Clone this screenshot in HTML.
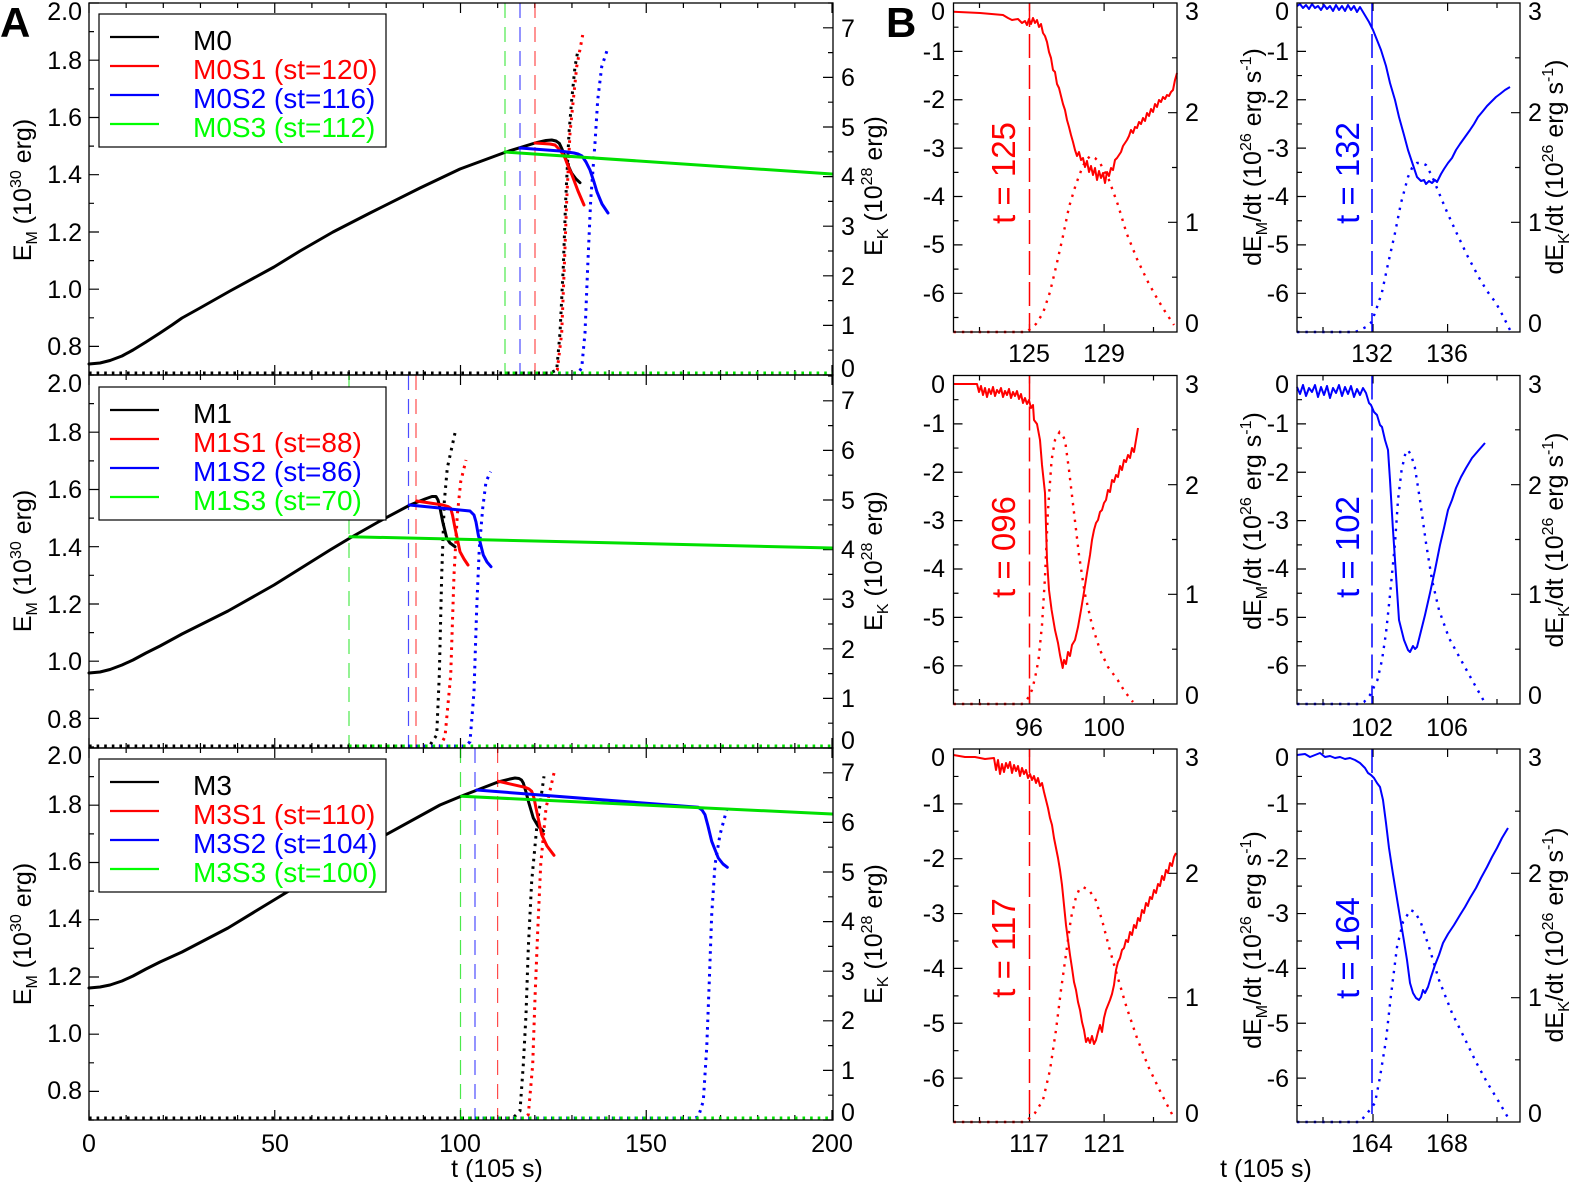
<!DOCTYPE html>
<html><head><meta charset="utf-8"><style>
html,body{margin:0;padding:0;background:#fff;}
svg{display:block;font-family:"Liberation Sans",Arial,sans-serif;}
</style></head><body>
<svg width="1570" height="1184" viewBox="0 0 1570 1184" xmlns="http://www.w3.org/2000/svg">
<defs>
<path id="xt" d="M89,0v10M126.15,0v5M163.3,0v5M200.45,0v5M237.6,0v5M274.75,0v10M311.9,0v5M349.05,0v5M386.2,0v5M423.35,0v5M460.5,0v10M497.65,0v5M534.8,0v5M571.95,0v5M609.1,0v5M646.25,0v10M683.4,0v5M720.55,0v5M757.7,0v5M794.85,0v5M832,0v10"/>
<path id="yl" d="M0,0h10M0,28.6h5M0,57.2h10M0,85.9h5M0,114.5h10M0,143.1h5M0,171.7h10M0,200.3h5M0,229h10M0,257.6h5M0,286.2h10M0,314.8h5M0,343.4h10M0,372h5"/>
<path id="yr" d="M0,0h-10M0,-24.8h-5M0,-49.6h-10M0,-74.4h-5M0,-99.2h-10M0,-124h-5M0,-148.8h-10M0,-173.6h-5M0,-198.4h-10M0,-223.2h-5M0,-248h-10M0,-272.8h-5M0,-297.6h-10M0,-322.4h-5M0,-347.2h-10M0,-372h-5"/>
<path id="bxt" d="M26,0v5M76,0v8M150.6,0v8M200,0v5"/>
<path id="bl1" d="M0,24.19h5M0,48.38h9M0,72.57h5M0,96.76h9M0,120.96h5M0,145.15h9M0,169.34h5M0,193.53h9M0,217.72h5M0,241.91h9M0,266.1h5M0,290.29h9M0,314.49h5"/>
<path id="bl3" d="M0,27.43h5M0,54.85h9M0,82.28h5M0,109.71h9M0,137.13h5M0,164.56h9M0,191.99h5M0,219.41h9M0,246.84h5M0,274.26h9M0,301.69h5M0,329.12h9M0,356.54h5"/>
<path id="br1" d="M0,-54.83h-5M0,-109.67h-9M0,-164.5h-5M0,-219.33h-9M0,-274.17h-5"/>
<path id="br3" d="M0,-62.17h-5M0,-124.33h-9M0,-186.5h-5M0,-248.67h-9M0,-310.83h-5"/>
</defs>
<rect width="1570" height="1184" fill="#fff"/>

<!-- A ticks -->
<g stroke="#000" stroke-width="1.2" fill="none">
<use href="#xt" transform="translate(0,3)"/>
<use href="#xt" transform="translate(0,375) scale(1,-1)"/>
<use href="#xt" transform="translate(0,375)"/>
<use href="#xt" transform="translate(0,748) scale(1,-1)"/>
<use href="#xt" transform="translate(0,748)"/>
<use href="#xt" transform="translate(0,1120) scale(1,-1)"/>
<use href="#yl" transform="translate(89,3)"/>
<use href="#yl" transform="translate(89,375)"/>
<use href="#yl" transform="translate(89,748)"/>
<use href="#yr" transform="translate(833,375)"/>
<use href="#yr" transform="translate(833,748)"/>
<use href="#yr" transform="translate(833,1120)"/>
<!-- B ticks -->
<use href="#bxt" transform="translate(953.5,3)"/><use href="#bxt" transform="translate(953.5,332) scale(1,-1)"/>
<use href="#bxt" transform="translate(953.5,375.5)"/><use href="#bxt" transform="translate(953.5,704) scale(1,-1)"/>
<use href="#bxt" transform="translate(953.5,749)"/><use href="#bxt" transform="translate(953.5,1122) scale(1,-1)"/>
<use href="#bxt" transform="translate(1297,3)"/><use href="#bxt" transform="translate(1297,332) scale(1,-1)"/>
<use href="#bxt" transform="translate(1297,375.5)"/><use href="#bxt" transform="translate(1297,704) scale(1,-1)"/>
<use href="#bxt" transform="translate(1297,749)"/><use href="#bxt" transform="translate(1297,1122) scale(1,-1)"/>
<use href="#bl1" transform="translate(953.5,3)"/><use href="#bl1" transform="translate(953.5,375.5)"/><use href="#bl3" transform="translate(953.5,749)"/>
<use href="#bl1" transform="translate(1297,3)"/><use href="#bl1" transform="translate(1297,375.5)"/><use href="#bl3" transform="translate(1297,749)"/>
<use href="#br1" transform="translate(1177,332)"/><use href="#br1" transform="translate(1177,704)"/><use href="#br3" transform="translate(1177,1122)"/>
<use href="#br1" transform="translate(1520,332)"/><use href="#br1" transform="translate(1520,704)"/><use href="#br3" transform="translate(1520,1122)"/>
</g>

<!-- A vertical dashed lines -->
<g stroke-width="1.2" stroke-dasharray="15 9" stroke-opacity="0.7">
<line x1="505" x2="505" y1="3" y2="375" stroke="#00e000"/><line x1="520" x2="520" y1="3" y2="375" stroke="#00f"/><line x1="535" x2="535" y1="3" y2="375" stroke="#f00"/>
<line x1="349" x2="349" y1="375" y2="748" stroke="#00e000"/><line x1="408.5" x2="408.5" y1="375" y2="748" stroke="#00f"/><line x1="416" x2="416" y1="375" y2="748" stroke="#f00"/>
<line x1="460.5" x2="460.5" y1="748" y2="1120" stroke="#00e000"/><line x1="475" x2="475" y1="748" y2="1120" stroke="#00f"/><line x1="497.6" x2="497.6" y1="748" y2="1120" stroke="#f00"/>
</g>

<!-- A dotted curves -->
<g fill="none" stroke-width="3" stroke-dasharray="2.6 5" stroke-linejoin="round">
<polyline stroke="#000" points="89,373 550,373 556.7,370 560,333 563.3,266.7 565.7,200 569,133 571.7,100 575,66.7 578,50"/>
<polyline stroke="#f00" points="535,373 553,373 557.3,370 561.7,333 564.3,266.7 566.7,200 570,133 573.3,100 576.7,66.7 582.7,35"/>
<polyline stroke="#00f" points="520,373 578,373 581.7,368 585,333 587.7,266.7 590.7,200 595,143 597.7,100 601.7,66.7 608.3,46.7"/>
<polyline stroke="#00e000" points="505,373 832,373"/>
<polyline stroke="#000" points="89,746 425,746 430,745 436.7,735 439.3,675 441.7,575 444.3,501.7 447.3,468 455,433"/>
<polyline stroke="#f00" points="416,746 440,746 445,736.7 450.7,675 454,575 457.3,515 460.7,481.7 466,460"/>
<polyline stroke="#00f" points="408.5,746 466,746 470,741.7 474,691.7 476.7,608.3 479.3,548.3 482.7,508.3 486,481.7 490.7,471.7"/>
<polyline stroke="#00e000" points="349,746 832,746"/>
<polyline stroke="#000" points="89,1118 513,1118 520,1111 523.3,1064.7 526,1014.7 528.3,948 531.7,881 536.7,828 544,776.3"/>
<polyline stroke="#f00" points="497.6,1118 524,1118 528.3,1114.7 532.7,1064.7 535,998 537.7,931.3 540.7,864.7 546,808 554,773"/>
<polyline stroke="#00f" points="475,1118 694,1118 698.3,1117 703.3,1101 706.7,1048 709.3,981 711.7,914.7 715,864.7 720,834.7 726.7,809.7"/>
<polyline stroke="#00e000" points="460.5,1118 832,1118"/>
</g>

<!-- A solid curves -->
<g fill="none" stroke-width="3" stroke-linejoin="round" stroke-linecap="round">
<polyline stroke="#000" points="89,364 100,363 110,360.5 122,356 133,350 146,342 160,333 172,325 182,318 200,308 230,291 274,267 300,251 333,232 370,213 420,188 460,169 506,152 535,143 546,140.5 551.7,140 556,141 559.3,143.3 562,149 565,156.7 568,165 571.7,173.3 576,179 580,182.7"/>
<polyline stroke="#f00" points="535,143 550,144 555,145 558,148 562,153 565,158 568,166 572,175 578,191 584,205"/>
<polyline stroke="#00f" points="520,148 560,151 574,153 578,154 582,156 586,162 590,170 594,182 597,192 602,204 608,213"/>
<polyline stroke="#00e000" points="505,152 832,174"/>
<polyline stroke="#000" points="89,673 100,672 110,669.5 122,665 133,660 146,653 160,646 182,634 228,611 274,585 330,550 350,538 380,521 410,505 425,499 432,496.5 436,496.5 438,500 440,508 442.7,521.7 446.7,538 450,543 455,546.7"/>
<polyline stroke="#f00" points="416.7,501 443,505 448,506.5 450.7,508.3 452.5,515 455,528 460,551.7 464,559 468,565"/>
<polyline stroke="#00f" points="409.3,505 470,511 474,515 476,522 478.3,535 483.3,555 487,562 491,566.7"/>
<polyline stroke="#00e000" points="350,536.7 832,548"/>
<polyline stroke="#000" points="89,988 100,987 110,985 122,981 133,976 146,969 160,962 182,952 228,928 274,900 330,866 380,838 440,805 461.7,796 498,782 510,779 515,778 519,778.5 521.5,780 523.3,783 526,792 528.3,801 533.3,818 538,826 543.3,831"/>
<polyline stroke="#f00" points="498.3,781.3 525,787.3 529,789 531.7,791.3 534,798 536,808 541.7,834.7 547,846 554,855.3"/>
<polyline stroke="#00f" points="476.7,790 698.3,807.3 702,810 705,814.7 708,826 711.7,841.3 718.3,858 723,864 727.3,867.3"/>
<polyline stroke="#00e000" points="461.7,796.3 832,814"/>
</g>

<!-- B vertical dashed -->
<g stroke-width="1.5" stroke-dasharray="24 7">
<line x1="1029.5" x2="1029.5" y1="3" y2="332" stroke="#f00"/><line x1="1029.5" x2="1029.5" y1="375.5" y2="704" stroke="#f00"/><line x1="1029.5" x2="1029.5" y1="749" y2="1122" stroke="#f00"/>
<line x1="1372" x2="1372" y1="3" y2="332" stroke="#00f"/><line x1="1372" x2="1372" y1="375.5" y2="704" stroke="#00f"/><line x1="1372" x2="1372" y1="749" y2="1122" stroke="#00f"/>
</g>
<!-- B dotted -->
<g fill="none" stroke-width="2.4" stroke-dasharray="2.4 6">
<polyline stroke="#f00" points="953.5,332 1027,332 1029,330 1036,324 1043,313 1050,292 1056,267 1063,236 1069,207 1076,184 1082.5,167 1086,160 1090.4,156 1095,158 1100,163 1109,180 1118,205 1126.5,233 1137,259 1148.5,283 1158,300 1166,313 1174,325"/>
<polyline stroke="#00f" points="1297,332 1355,332 1360,330 1366,327 1371.6,322 1376,310 1381.8,293 1388,264 1395,233 1401,203 1408,177 1412,168 1417,163 1422,163 1426,165 1432,176 1439,193 1447,212 1456.6,233 1467,255 1478.6,277 1487,291 1496,303 1503,316 1510,330"/>
<polyline stroke="#f00" points="953.5,704 1022,704 1025,702 1028,698 1032,690 1035,678 1038.5,660 1042,625 1045,577 1048,510 1051.6,460 1055,440 1059.6,432 1062,434 1065,440 1069,470 1073.7,510 1079,555 1084.7,593 1092,625 1100,650 1108,667 1117.7,680 1125,692 1133,702"/>
<polyline stroke="#00f" points="1297,704 1360,704 1364,702 1370,695 1377.4,680 1382,660 1386,633 1390,595 1395,543 1398,500 1401.6,470 1405,455 1408,450 1411,455 1414.8,467 1420,500 1426,543 1432,580 1439,610 1449,638 1461,660 1472,680 1485,703"/>
<polyline stroke="#f00" points="953.5,1122 1024,1122 1027.4,1120 1035,1113 1043,1100 1050,1070 1056,1030 1061,990 1067,947 1071,918 1076,897 1079,890 1083,887 1089,890 1095.7,900 1102,920 1109,947 1117,975 1126.5,1007 1137,1038 1148.5,1067 1161,1093 1174,1118"/>
<polyline stroke="#00f" points="1297,1122 1360,1122 1364,1117 1369,1111 1375,1103 1380,1077 1386,1040 1391,995 1397,947 1403,922 1410.4,910 1415,912 1421,923 1429,947 1439,980 1452,1013 1465.4,1040 1476,1062 1487.4,1083 1499,1102 1509.4,1120"/>
</g>
<!-- B solid noisy -->
<g fill="none" stroke-width="2" stroke-linejoin="round">
<polyline stroke="#f00" points="953.5,11.7 980,13 1003,15 1008,18 1012,20 1018,19 1022,23 1025,21 1027,25 1029,19 1031,24 1033,18 1035,23 1037,20 1039,27 1041,24 1043,33 1045,36 1047,42 1049,52 1051,58 1053,70 1055,72 1057,84 1059,88 1061,96 1063,104 1065,110 1067,120 1069,127 1071,135 1073,142 1075,150 1077,156 1079,152 1081,160 1083,158 1085,167 1087,161 1089,172 1091,166 1093,175 1095,168 1097,180 1099,171 1101,178 1103,173 1105,183 1107,172 1109,176 1111,168 1113,170 1115,160 1117,158 1119,155 1121,152 1123,146 1125,143 1127,140 1129,136 1131,130 1133,133 1135,127 1137,128 1139,122 1141,124 1143,118 1145,121 1147,113 1149,116 1151,109 1153,112 1155,104 1157,107 1159,100 1161,102 1163,97 1165,99 1167,95 1169,96 1171,92 1173,90 1175,80 1177,73"/>
<polyline stroke="#00f" points="1297,6 1300,4 1303,8 1306,5 1309,9 1312,4 1315,8 1318,6 1321,10 1324,5 1327,9 1330,6 1333,11 1336,5 1339,10 1342,6 1345,11 1348,5 1351,10 1354,6 1357,12 1360,7 1363,12 1366,17 1369,22 1373,30 1377,40 1381,50 1386,66 1390,83 1395,100 1399,117 1404,135 1408,150 1413,165 1417,177 1421,181 1424,180 1426,184 1429,181 1432,183 1435,180 1437,182 1441,174 1444,169 1448,163 1452,158 1456,150 1460,144 1465,137 1470,130 1474,124 1478,117 1483,111 1487,106 1492,101 1496,97 1500,94 1505,90 1510,87"/>
<polyline stroke="#f00" points="953.5,384 977,384 979,392 981,386 983,395 985,388 987,397 989,389 991,394 993,387 995,396 997,390 999,393 1001,388 1003,397 1005,391 1007,395 1009,389 1011,398 1013,392 1015,396 1017,391 1019,399 1021,394 1023,403 1025,398 1027,404 1029,400 1031,408 1033,405 1034,420 1037,424 1040,440 1042,465 1045,493 1047,560 1049,590 1051.6,610 1055,630 1058,643 1060,655 1062.7,668 1064,660 1066,664 1068,652 1070,656 1072,645 1075,640 1078,627 1081,610 1084,592 1087,573 1090,555 1092,540 1094,530 1096,523 1098,520 1100,512 1102,510 1104,503 1106,500 1108,490 1110,492 1112,480 1114,482 1116,475 1118,477 1120,466 1122,470 1124,460 1126,462 1128,455 1130,458 1132,448 1134,452 1136,440 1138,428"/>
<polyline stroke="#00f" points="1297,387 1300,394 1303,385 1306,396 1309,388 1312,392 1315,385 1318,397 1321,387 1324,395 1327,386 1330,398 1333,388 1336,393 1339,385 1342,396 1345,387 1348,394 1351,386 1354,397 1357,389 1360,395 1363,388 1366,393 1369,403 1371,405 1374,412 1377,415 1380,425 1382,427 1385,440 1388,450 1390,480 1392.8,527 1396,575 1399,620 1404,640 1408,650 1410,652 1413,646 1415,649 1417,647 1420,635 1425,615 1430,593 1435,570 1440,545 1444,528 1448,510 1452,500 1456,488 1461,477 1466,468 1472,458 1478,451 1485,443"/>
<polyline stroke="#f00" points="953.5,755 965,757 975,757 985,759 994,758 996,770 998,760 1000,774 1002,764 1004,772 1006,763 1008,768 1010,762 1012,773 1014,765 1016,771 1018,766 1020,776 1022,768 1024,774 1026,770 1028,778 1030,774 1032,780 1034,776 1036,783 1038,778 1040,786 1042,783 1044,792 1046,800 1048,808 1050,818 1052,825 1054,838 1056,848 1058,858 1060,870 1062,885 1064,905 1066,925 1068,940 1070,955 1072,968 1074,982 1076,990 1078,1002 1080,1010 1082,1022 1084,1030 1086,1042 1088,1038 1090,1043 1092,1036 1094,1044 1096,1040 1098,1032 1100,1025 1102,1032 1104,1018 1106,1010 1108,1005 1110,1000 1112,994 1114,985 1116,970 1118,962 1120,958 1122,950 1124,948 1126,940 1128,942 1130,932 1132,935 1134,925 1136,928 1138,918 1140,921 1142,910 1144,913 1146,903 1148,906 1150,897 1152,899 1154,890 1156,893 1158,884 1160,886 1162,876 1164,880 1166,870 1168,873 1170,863 1172,866 1174,857 1176,853"/>
<polyline stroke="#00f" points="1297,755 1305,754 1310,757 1315,755 1320,753 1325,757 1330,756 1335,758 1340,757 1345,759 1350,758 1355,760 1360,763 1365,768 1368,773 1371,775 1374,778 1377,783 1380,787 1383,800 1386,823 1389,848 1392.8,873 1398,905 1403.8,940 1407,960 1410,983 1413,993 1416,998 1419,1000 1421,997 1423,990 1425,993 1428,987 1431,977 1435,965 1439,955 1443,943 1448,934 1454,925 1460,915 1465,907 1470,898 1476,888 1481,878 1487,867 1492,857 1497,848 1502,838 1508,828"/>
</g>

<g fill="none" stroke="#000" stroke-width="1.3">
<rect x="89" y="3" width="744" height="372"/>
<rect x="89" y="375" width="744" height="373"/>
<rect x="89" y="748" width="744" height="372"/>
<rect x="953.5" y="3" width="223.5" height="329"/>
<rect x="953.5" y="375.5" width="223.5" height="328.5"/>
<rect x="953.5" y="749" width="223.5" height="373"/>
<rect x="1297" y="3" width="223" height="329"/>
<rect x="1297" y="375.5" width="223" height="328.5"/>
<rect x="1297" y="749" width="223" height="373"/>
</g>
<!-- legends -->
<g fill="#fff" stroke="#000" stroke-width="1.2">
<rect x="99" y="14" width="287" height="133"/>
<rect x="99" y="387" width="287" height="133"/>
<rect x="99" y="759" width="287" height="133"/>
</g>
<g stroke-width="2.2">
<line x1="110" x2="159" y1="37" y2="37" stroke="#000"/><line x1="110" x2="159" y1="66" y2="66" stroke="#f00"/><line x1="110" x2="159" y1="95" y2="95" stroke="#00f"/><line x1="110" x2="159" y1="124" y2="124" stroke="#0f0"/>
<line x1="110" x2="159" y1="410" y2="410" stroke="#000"/><line x1="110" x2="159" y1="439" y2="439" stroke="#f00"/><line x1="110" x2="159" y1="468" y2="468" stroke="#00f"/><line x1="110" x2="159" y1="497" y2="497" stroke="#0f0"/>
<line x1="110" x2="159" y1="782" y2="782" stroke="#000"/><line x1="110" x2="159" y1="811" y2="811" stroke="#f00"/><line x1="110" x2="159" y1="840" y2="840" stroke="#00f"/><line x1="110" x2="159" y1="869" y2="869" stroke="#0f0"/>
</g>
<g font-size="28">
<text x="193" y="50">M0</text><text x="193" y="79" fill="#f00">M0S1 (st=120)</text><text x="193" y="108" fill="#00f">M0S2 (st=116)</text><text x="193" y="137" fill="#0f0">M0S3 (st=112)</text>
<text x="193" y="423">M1</text><text x="193" y="452" fill="#f00">M1S1 (st=88)</text><text x="193" y="481" fill="#00f">M1S2 (st=86)</text><text x="193" y="510" fill="#0f0">M1S3 (st=70)</text>
<text x="193" y="795">M3</text><text x="193" y="824" fill="#f00">M3S1 (st=110)</text><text x="193" y="853" fill="#00f">M3S2 (st=104)</text><text x="193" y="882" fill="#0f0">M3S3 (st=100)</text>
</g>
<text x="0" y="37" font-size="42" font-weight="bold">A</text>
<text x="886" y="37" font-size="42" font-weight="bold">B</text>
<g font-size="25" text-anchor="end">
<text x="82" y="20">2.0</text><text x="82" y="69">1.8</text><text x="82" y="126">1.6</text><text x="82" y="183">1.4</text><text x="82" y="241">1.2</text><text x="82" y="298">1.0</text><text x="82" y="355">0.8</text>
<text x="82" y="392">2.0</text><text x="82" y="441">1.8</text><text x="82" y="498">1.6</text><text x="82" y="556">1.4</text><text x="82" y="613">1.2</text><text x="82" y="670">1.0</text><text x="82" y="728">0.8</text>
<text x="82" y="764">2.0</text><text x="82" y="813">1.8</text><text x="82" y="870">1.6</text><text x="82" y="927">1.4</text><text x="82" y="985">1.2</text><text x="82" y="1042">1.0</text><text x="82" y="1099">0.8</text>
</g>
<g font-size="25">
<text x="841" y="377">0</text><text x="841" y="334">1</text><text x="841" y="285">2</text><text x="841" y="235">3</text><text x="841" y="185">4</text><text x="841" y="136">5</text><text x="841" y="86">6</text><text x="841" y="37">7</text>
<text x="841" y="749">0</text><text x="841" y="707">1</text><text x="841" y="658">2</text><text x="841" y="608">3</text><text x="841" y="558">4</text><text x="841" y="509">5</text><text x="841" y="459">6</text><text x="841" y="409">7</text>
<text x="841" y="1121">0</text><text x="841" y="1079">1</text><text x="841" y="1029">2</text><text x="841" y="980">3</text><text x="841" y="930">4</text><text x="841" y="881">5</text><text x="841" y="831">6</text><text x="841" y="781">7</text>
</g>
<g font-size="25" text-anchor="middle">
<text x="89" y="1152">0</text><text x="275" y="1152">50</text><text x="460" y="1152">100</text><text x="646" y="1152">150</text><text x="832" y="1152">200</text>
<text x="497" y="1177">t (105 s)</text>
<text x="1266" y="1177">t (105 s)</text>
</g>
<g font-size="25" text-anchor="middle">
<text transform="translate(31,190) rotate(-90)">E<tspan font-size="16" dy="6">M</tspan><tspan dy="-6"> (10</tspan><tspan font-size="16" dy="-10">30</tspan><tspan dy="10"> erg)</tspan></text>
<text transform="translate(31,561) rotate(-90)">E<tspan font-size="16" dy="6">M</tspan><tspan dy="-6"> (10</tspan><tspan font-size="16" dy="-10">30</tspan><tspan dy="10"> erg)</tspan></text>
<text transform="translate(31,934) rotate(-90)">E<tspan font-size="16" dy="6">M</tspan><tspan dy="-6"> (10</tspan><tspan font-size="16" dy="-10">30</tspan><tspan dy="10"> erg)</tspan></text>
<text transform="translate(882,186) rotate(-90)">E<tspan font-size="16" dy="6">K</tspan><tspan dy="-6"> (10</tspan><tspan font-size="16" dy="-10">28</tspan><tspan dy="10"> erg)</tspan></text>
<text transform="translate(882,561) rotate(-90)">E<tspan font-size="16" dy="6">K</tspan><tspan dy="-6"> (10</tspan><tspan font-size="16" dy="-10">28</tspan><tspan dy="10"> erg)</tspan></text>
<text transform="translate(882,934) rotate(-90)">E<tspan font-size="16" dy="6">K</tspan><tspan dy="-6"> (10</tspan><tspan font-size="16" dy="-10">28</tspan><tspan dy="10"> erg)</tspan></text>
<text transform="translate(1261,157) rotate(-90)">dE<tspan font-size="16" dy="6">M</tspan><tspan dy="-6">/dt (10</tspan><tspan font-size="16" dy="-10">26</tspan><tspan dy="10"> erg s</tspan><tspan font-size="16" dy="-10">-1</tspan><tspan dy="10">)</tspan></text>
<text transform="translate(1261,521) rotate(-90)">dE<tspan font-size="16" dy="6">M</tspan><tspan dy="-6">/dt (10</tspan><tspan font-size="16" dy="-10">26</tspan><tspan dy="10"> erg s</tspan><tspan font-size="16" dy="-10">-1</tspan><tspan dy="10">)</tspan></text>
<text transform="translate(1261,940) rotate(-90)">dE<tspan font-size="16" dy="6">M</tspan><tspan dy="-6">/dt (10</tspan><tspan font-size="16" dy="-10">26</tspan><tspan dy="10"> erg s</tspan><tspan font-size="16" dy="-10">-1</tspan><tspan dy="10">)</tspan></text>
<text transform="translate(1563,167) rotate(-90)">dE<tspan font-size="16" dy="6">K</tspan><tspan dy="-6">/dt (10</tspan><tspan font-size="16" dy="-10">26</tspan><tspan dy="10"> erg s</tspan><tspan font-size="16" dy="-10">-1</tspan><tspan dy="10">)</tspan></text>
<text transform="translate(1563,540) rotate(-90)">dE<tspan font-size="16" dy="6">K</tspan><tspan dy="-6">/dt (10</tspan><tspan font-size="16" dy="-10">26</tspan><tspan dy="10"> erg s</tspan><tspan font-size="16" dy="-10">-1</tspan><tspan dy="10">)</tspan></text>
<text transform="translate(1563,935) rotate(-90)">dE<tspan font-size="16" dy="6">K</tspan><tspan dy="-6">/dt (10</tspan><tspan font-size="16" dy="-10">26</tspan><tspan dy="10"> erg s</tspan><tspan font-size="16" dy="-10">-1</tspan><tspan dy="10">)</tspan></text>
</g>
<g font-size="33" text-anchor="middle">
<text transform="translate(1015,173) rotate(-90)" fill="#f00">t = 125</text>
<text transform="translate(1015,547) rotate(-90)" fill="#f00">t = 096</text>
<text transform="translate(1015,948) rotate(-90)" fill="#f00">t = 117</text>
<text transform="translate(1359,173) rotate(-90)" fill="#00f">t = 132</text>
<text transform="translate(1359,547) rotate(-90)" fill="#00f">t = 102</text>
<text transform="translate(1359,948) rotate(-90)" fill="#00f">t = 164</text>
</g>
<g font-size="25" text-anchor="end">
<text x="945" y="20">0</text><text x="945" y="60">-1</text><text x="945" y="108">-2</text><text x="945" y="157">-3</text><text x="945" y="205">-4</text><text x="945" y="253">-5</text><text x="945" y="302">-6</text>
<text x="945" y="393">0</text><text x="945" y="432">-1</text><text x="945" y="481">-2</text><text x="945" y="529">-3</text><text x="945" y="577">-4</text><text x="945" y="626">-5</text><text x="945" y="674">-6</text>
<text x="945" y="766">0</text><text x="945" y="812">-1</text><text x="945" y="867">-2</text><text x="945" y="922">-3</text><text x="945" y="977">-4</text><text x="945" y="1032">-5</text><text x="945" y="1087">-6</text>
<text x="1289" y="20">0</text><text x="1289" y="60">-1</text><text x="1289" y="108">-2</text><text x="1289" y="157">-3</text><text x="1289" y="205">-4</text><text x="1289" y="253">-5</text><text x="1289" y="302">-6</text>
<text x="1289" y="393">0</text><text x="1289" y="432">-1</text><text x="1289" y="481">-2</text><text x="1289" y="529">-3</text><text x="1289" y="577">-4</text><text x="1289" y="626">-5</text><text x="1289" y="674">-6</text>
<text x="1289" y="766">0</text><text x="1289" y="812">-1</text><text x="1289" y="867">-2</text><text x="1289" y="922">-3</text><text x="1289" y="977">-4</text><text x="1289" y="1032">-5</text><text x="1289" y="1087">-6</text>
</g>
<g font-size="25">
<text x="1185" y="20">3</text><text x="1185" y="121">2</text><text x="1185" y="231">1</text><text x="1185" y="332">0</text>
<text x="1185" y="393">3</text><text x="1185" y="494">2</text><text x="1185" y="603">1</text><text x="1185" y="704">0</text>
<text x="1185" y="766">3</text><text x="1185" y="882">2</text><text x="1185" y="1006">1</text><text x="1185" y="1122">0</text>
<text x="1528" y="20">3</text><text x="1528" y="121">2</text><text x="1528" y="231">1</text><text x="1528" y="332">0</text>
<text x="1528" y="393">3</text><text x="1528" y="494">2</text><text x="1528" y="603">1</text><text x="1528" y="704">0</text>
<text x="1528" y="766">3</text><text x="1528" y="882">2</text><text x="1528" y="1006">1</text><text x="1528" y="1122">0</text>
</g>
<g font-size="25" text-anchor="middle">
<text x="1029" y="362">125</text><text x="1104" y="362">129</text><text x="1372" y="362">132</text><text x="1447" y="362">136</text>
<text x="1029" y="736">96</text><text x="1104" y="736">100</text><text x="1372" y="736">102</text><text x="1447" y="736">106</text>
<text x="1029" y="1152">117</text><text x="1104" y="1152">121</text><text x="1372" y="1152">164</text><text x="1447" y="1152">168</text>
</g>
</svg>
</body></html>
